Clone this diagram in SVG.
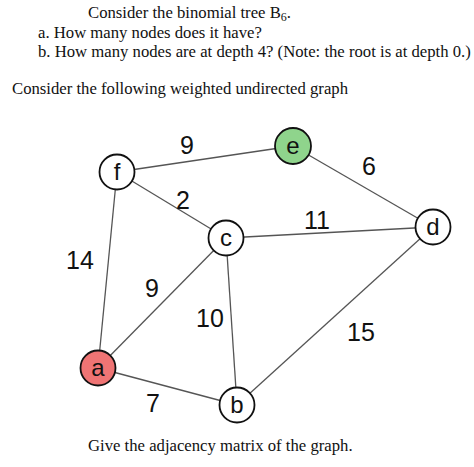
<svg xmlns="http://www.w3.org/2000/svg" width="474" height="467" viewBox="0 0 474 467">
<style>
.t{font-family:"Liberation Serif","Times New Roman",serif;font-size:16.7px;fill:#111}
.n circle{fill:#fff;stroke:#111;stroke-width:1.8}
.n text{font-family:"Liberation Sans",Arial,sans-serif;font-size:24px;fill:#111;text-anchor:middle}
.w{font-family:"Liberation Sans",Arial,sans-serif;font-size:25px;fill:#111;text-anchor:middle}
#edges line{stroke:#555;stroke-width:1.3}
</style>
<rect width="474" height="467" fill="#fff"/>
<text class="t" x="88" y="18">Consider the binomial tree B<tspan font-size="12" dy="3">6</tspan><tspan dy="-3">.</tspan></text>
<text class="t" x="38" y="38">a. How many nodes does it have?</text>
<text class="t" x="38" y="57">b. How many nodes are at depth 4? (Note: the root is at depth 0.)</text>
<text class="t" x="12" y="94">Consider the following weighted undirected graph</text>
<text class="t" x="88" y="451">Give the adjacency matrix of the graph.</text>
<g id="edges">
<line x1="117" y1="172" x2="293" y2="146"/>
<line x1="117" y1="172" x2="226" y2="238"/>
<line x1="117" y1="172" x2="98" y2="368"/>
<line x1="293" y1="146" x2="433" y2="227"/>
<line x1="226" y1="238" x2="433" y2="227"/>
<line x1="226" y1="238" x2="98" y2="368"/>
<line x1="226" y1="238" x2="237" y2="405"/>
<line x1="98" y1="368" x2="237" y2="405"/>
<line x1="433" y1="227" x2="237" y2="405"/>
</g>
<g id="labels">
<text class="w" x="187" y="154">9</text>
<text class="w" x="183" y="209">2</text>
<text class="w" x="369" y="175">6</text>
<text class="w" x="317" y="229">11</text>
<text class="w" x="80" y="269">14</text>
<text class="w" x="152" y="297">9</text>
<text class="w" x="210" y="327">10</text>
<text class="w" x="153" y="412">7</text>
<text class="w" x="361" y="341">15</text>
</g>
<g id="node-f" class="n"><circle cx="117" cy="172" r="17.5"/><text x="117" y="180">f</text></g>
<g id="node-e" class="n"><circle cx="293" cy="146" r="18" style="fill:#8fd48c"/><text x="293" y="154">e</text></g>
<g id="node-c" class="n"><circle cx="226" cy="238" r="17.5"/><text x="226" y="246">c</text></g>
<g id="node-d" class="n"><circle cx="433" cy="227" r="17.5"/><text x="433" y="235">d</text></g>
<g id="node-a" class="n"><circle cx="98" cy="368" r="17.5" style="fill:#ef7474"/><text x="98" y="376">a</text></g>
<g id="node-b" class="n"><circle cx="237" cy="405" r="17.5"/><text x="237" y="413">b</text></g>
</svg>
